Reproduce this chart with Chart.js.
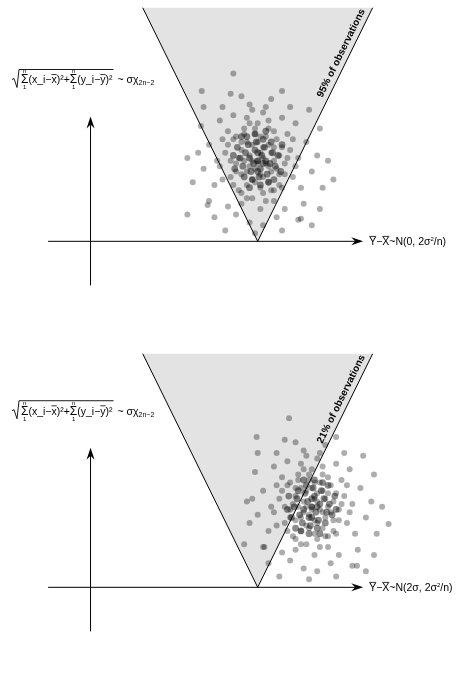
<!DOCTYPE html>
<html lang="en">
<head>
<meta charset="UTF-8">
<script src="https://cdn.jsdelivr.net/npm/chart.js"></script>
<style>
  body { margin: 0; background: #fff; }
  .panel { width: 474px; height: 346px; }
  canvas { display: block; }
</style>
</head>
<body>
<div class="panel"><canvas id="graficoTopo" width="474" height="346"></canvas></div>
<div class="panel"><canvas id="graficoBaixo" width="474" height="346"></canvas></div>
<script>
// unidades em sigma; o vertice do cone fica na origem
const coneTopo = [[-4.25, 8.7], [0, 0], [4.25, 8.7]];
const rotulos = ['95% of observations', '21% of observations'];
const medias = ['0', '2σ'];

const pontosTopo = [
  [0,3],[0.2,3.1],[-0.3,2.8],[0.5,3.3],[-0.6,3.4],[0.1,2.5],[-0.2,3.6],[0.7,2.7],[-0.8,2.6],[0.4,2.2],
  [-0.4,2.1],[0.9,3.5],[-0.9,3.8],[0.3,3.9],[-0.1,4.0],[0.6,4.1],[-0.5,4.2],[1.0,2.9],[-1.0,3.0],[0.8,2.1],
  [-0.7,1.9],[0.2,1.8],[-0.2,1.6],[1.2,3.4],[-1.2,3.3],[0.0,4.4],[0.4,4.5],[-0.4,4.6],[1.1,4.0],[-1.1,4.1],
  [1.3,2.4],[-1.3,2.3],[0.6,1.5],[-0.6,1.4],[0.1,1.2],[1.5,3.1],[-1.5,3.0],[0.9,4.6],[-0.9,4.7],[0.3,5.0],
  [-0.3,5.1],[1.6,2.0],[-1.6,2.1],[1.4,4.4],[-1.4,4.5],[0.7,0.9],[-0.8,1.0],[1.8,3.7],[-1.8,3.6],[2.0,2.6],
  [-2.0,2.7],[1.0,1.2],[-1.1,1.3],[0.5,5.3],[-0.6,5.4],[1.2,5.0],[-1.3,5.0],[2.2,3.2],[-2.2,3.3],[1.7,1.4],
  [-1.8,1.5],[0.2,0.6],[-0.3,0.7],[2.4,2.0],[-2.4,2.2],[0.9,5.6],[-1.0,5.5],[2.3,4.2],[-2.1,4.3],[2.6,3.0],
  [-2.6,3.1],[1.5,0.8],[-1.6,0.9],[1.9,4.9],[-2.0,5.0],[2.8,2.3],[1.6,0.84],[-1.85,1.35],[-0.9,6.25],[-2.07,5.6],
  [-2.6,1.0],[2.3,1.2],[-0.1,0.3],[0.9,0.4],[-1.2,0.4],[2.0,0.6],
  [0.1,3.3],[-0.1,2.7],[0.3,2.9],[-0.3,3.2],[0.4,3.6],[-0.5,3.0],[0.6,3.0],[-0.2,2.3],[0.2,2.4],[0.0,3.7],
  [-0.7,3.1],[0.8,3.2],[-0.4,3.7],[0.5,2.6],[-0.6,2.5],[0.1,2.0],[-0.1,4.2],[0.7,3.8],[-0.8,3.9],[1.0,2.5],
  [-1.0,2.4],[0.3,1.5],[-0.4,1.6],[1.1,3.1],[-1.1,3.6],[0.9,2.0],[-0.9,2.1],[0.4,4.2],[-0.3,4.4],[1.3,3.8],
  [-1.3,3.8],[0.6,1.9],[-0.6,1.8],[1.4,2.8],[-1.4,2.8],[0.2,4.8],[-0.2,4.9],[0.0,2.9],[0.2,3.5],[-0.2,3.0],
  [0.4,2.8],[-0.4,2.6],[0.1,3.9],[-0.1,2.2],[0.6,3.5],[-0.6,3.7],[0.8,2.5],[-0.8,2.9],[0.5,1.9],[-0.5,4.0]
];
// miolo denso da nuvem de cima
const nucleoTopo = [
  [0,3.0],[0.15,3.2],[-0.15,2.9],[0.3,3.0],[-0.3,3.1],[0.1,2.7],[-0.1,3.4],[0.25,3.5],[-0.25,2.6],[0.45,2.9],
  [-0.45,3.3],[0.05,2.4],[-0.05,3.7],[0.55,3.3],[-0.55,2.8],[0.35,2.5],[-0.35,3.6],[0.65,2.8],[-0.65,3.1],[0.2,3.8],
  [-0.2,2.3],[0.5,3.7],[-0.5,2.4],[0.75,3.2],[-0.75,3.5],[0.1,2.1],[-0.1,4.0],[0.4,2.2],[-0.4,3.9],[0.85,2.6],
  [-0.85,2.7],[0.6,2.3],[-0.6,3.9],[0.3,4.1],[-0.3,2.0],[0.9,3.6],[-0.9,3.2],[0.0,2.6],[0.0,3.3],[0.2,2.9]
];

const pontosBaixo = [
  [2,3],[2.2,3.2],[1.7,2.8],[2.5,3.3],[1.4,3.4],[2.1,2.5],[1.8,3.6],[2.7,2.8],[1.2,2.6],[2.4,2.2],
  [1.6,2.1],[2.9,3.5],[1.1,3.8],[2.3,3.9],[1.9,4.0],[2.6,4.1],[1.5,4.2],[3.0,2.9],[1.0,3.0],[2.8,2.1],
  [1.3,1.9],[2.2,1.8],[1.8,1.6],[3.2,3.4],[0.8,3.3],[2.0,4.4],[2.4,4.5],[1.6,4.6],[3.1,4.0],[0.9,4.1],
  [3.3,2.4],[0.7,2.3],[2.6,1.5],[1.4,1.4],[2.1,1.2],[3.5,3.1],[0.5,3.0],[2.9,4.6],[1.1,4.7],[2.3,5.0],
  [1.7,5.1],[3.6,2.0],[0.4,2.1],[3.4,4.4],[0.6,4.5],[2.7,0.9],[1.2,1.0],[3.8,3.7],[0.2,3.6],[4.0,2.6],
  [0.0,2.7],[3.0,1.2],[0.9,1.3],[2.5,5.3],[1.4,5.4],[3.2,5.0],[0.7,5.0],[4.2,3.2],[-0.2,3.3],[3.7,1.4],
  [0.2,1.5],[2.2,0.6],[1.7,0.7],[4.4,2.0],[-0.3,2.4],[2.9,5.6],[1.0,5.5],[4.3,4.2],[-0.1,4.3],[4.6,3.0],
  [-0.4,3.2],[3.5,0.8],[0.4,0.9],[3.9,4.9],[0.0,5.0],[4.84,2.36],[3.67,0.8],[0.25,1.5],[1.16,6.3],[-0.04,5.6],
  [-0.5,1.6],[4.3,1.2],[1.9,0.3],[2.9,0.4],[0.8,0.4],[4.0,0.6],
  [2.1,3.3],[1.9,2.7],[2.3,2.9],[1.7,3.2],[2.4,3.6],[1.5,3.0],[2.6,3.0],[1.8,2.3],[2.2,2.4],[2.0,3.7],
  [1.3,3.1],[2.8,3.2],[1.6,3.7],[2.5,2.6],[1.4,2.5],[2.1,2.0],[1.9,4.2],[2.7,3.8],[1.2,3.9],[3.0,2.5],
  [1.0,2.4],[2.3,1.5],[1.6,1.6],[3.1,3.1],[0.9,3.6],[2.9,2.0],[1.1,2.1],[2.4,4.2],[1.7,4.4],[3.3,3.8],
  [0.7,3.8],[2.6,1.9],[1.4,1.8],[3.4,2.8],[0.6,2.8],[2.2,4.8],[1.8,4.9],[2.0,2.9],[2.2,3.5],[1.8,3.0],
  [2.4,2.8],[1.6,2.6],[2.1,3.9],[1.9,2.2],[2.6,3.5],[1.4,3.7],[2.8,2.5],[1.2,2.9],[2.5,1.9],[1.5,4.0]
];
// miolo denso da nuvem de baixo
const nucleoBaixo = [
  [2.0,3.0],[2.15,2.8],[1.85,3.2],[2.3,3.1],[1.7,2.9],[2.1,3.4],[1.9,2.6],[2.25,2.5],[1.75,3.5],[2.45,3.3],
  [1.55,2.7],[2.05,3.7],[1.95,2.3],[2.55,2.8],[1.45,3.3],[2.35,3.6],[1.65,2.4],[2.65,3.1],[1.35,3.0],[2.2,2.2],
  [1.8,3.8],[2.5,2.4],[1.5,3.6],[2.75,2.7],[1.25,2.6],[2.1,4.0],[1.9,2.0],[2.4,3.9],[1.6,2.1],[2.85,3.4],
  [1.15,3.4],[2.6,3.8],[1.4,2.2],[2.3,2.0],[1.7,4.0],[2.9,2.9],[1.1,2.9],[2.0,2.6],[2.0,3.3],[2.2,3.0]
];

// posicao dos eixos desenhados (unidades)
const eixoH = [-7.75, 3.9];
const eixoVx = -6.18;
const eixoVtopo = [4.65, 5.2];

const FONTE = '"Liberation Sans", Arial, sans-serif';

function seta(ctx, x, y, dir) {
  ctx.beginPath();
  if (dir === 'r') {
    ctx.moveTo(x, y); ctx.lineTo(x - 12, y - 4); ctx.lineTo(x - 8, y); ctx.lineTo(x - 12, y + 4);
  } else {
    ctx.moveTo(x, y); ctx.lineTo(x - 4, y + 12); ctx.lineTo(x, y + 8); ctx.lineTo(x + 4, y + 12);
  }
  ctx.closePath();
  ctx.fill();
}

// desenha uma sequencia de pedacos de texto; devolve x final
function escreve(ctx, x, base, partes) {
  partes.forEach(p => {
    ctx.font = (p.s || 10.5) + 'px ' + FONTE;
    const w = ctx.measureText(p.t).width;
    ctx.fillText(p.t, x, base + (p.dy || 0));
    if (p.over) {
      ctx.beginPath();
      ctx.moveTo(x, base - (p.s || 10.5) * 0.85);
      ctx.lineTo(x + w, base - (p.s || 10.5) * 0.85);
      ctx.lineWidth = 0.8;
      ctx.stroke();
    }
    if (p.sig) {
      ctx.font = '6px ' + FONTE;
      ctx.textAlign = 'center';
      ctx.fillText('n', x + w / 2, base - 10);
      ctx.fillText('1', x + w / 2, base + 6);
      ctx.textAlign = 'left';
    }
    x += w;
  });
  return x;
}

function rotuloVertical(ctx, x0, base) {
  ctx.fillStyle = '#000';
  ctx.strokeStyle = '#000';
  const ini = x0 + 8;
  const fim = escreve(ctx, ini + 1, base, [
    { t: 'Σ', s: 12, sig: true }, { t: '(x_i−' }, { t: 'x', over: true }, { t: ')²+' },
    { t: 'Σ', s: 12, sig: true }, { t: '(y_i−' }, { t: 'y', over: true }, { t: ')²' }
  ]);
  ctx.beginPath();
  ctx.lineWidth = 0.9;
  ctx.moveTo(x0, base - 4); ctx.lineTo(x0 + 2, base - 5); ctx.lineTo(x0 + 5, base + 4);
  ctx.lineTo(x0 + 7, base - 14); ctx.lineTo(fim + 1, base - 14);
  ctx.stroke();
  const x = escreve(ctx, fim + 2, base, [{ t: ' ~ σχ' }]);
  escreve(ctx, x, base, [{ t: '2n−2', s: 7, dy: 2 }]);
}

const desenhos = {
  id: 'desenhos',
  afterDatasetsDraw(chart, args, opts) {
    const ctx = chart.ctx;
    const sx = chart.scales.x, sy = chart.scales.y;
    ctx.save();
    ctx.strokeStyle = '#000';
    ctx.fillStyle = '#000';
    ctx.lineWidth = 1;
    const y0 = sy.getPixelForValue(0);
    const xa = sx.getPixelForValue(eixoH[0]), xb = sx.getPixelForValue(eixoH[1]);
    ctx.beginPath(); ctx.moveTo(xa, y0); ctx.lineTo(xb - 8, y0); ctx.stroke();
    seta(ctx, xb, y0, 'r');
    const xv = sx.getPixelForValue(eixoVx);
    const yv0 = sy.getPixelForValue(-1.64), yv1 = sy.getPixelForValue(eixoVtopo[opts.i]);
    ctx.beginPath(); ctx.moveTo(xv, yv0); ctx.lineTo(xv, yv1 + 8); ctx.stroke();
    seta(ctx, xv, yv1, 'u');

    escreve(ctx, xb + 6, y0 + 4, [
      { t: 'Y', over: true }, { t: '−' }, { t: 'X', over: true },
      { t: '~N(' + medias[opts.i] + ', 2σ' }, { t: '2', s: 6, dy: -4 }, { t: '/n)' }
    ]);
    rotuloVertical(ctx, 12, yv1 - 33);

    // texto inclinado ao longo do cone
    const c = coneTopo[2];
    const px = sx.getPixelForValue(c[0] * 0.8) - 6, py = sy.getPixelForValue(c[1] * 0.8);
    const ang = Math.atan2(sy.getPixelForValue(c[1]) - y0, sx.getPixelForValue(c[0]) - sx.getPixelForValue(0));
    ctx.translate(px, py);
    ctx.rotate(ang);
    ctx.font = 'bold 10px ' + FONTE;
    ctx.textAlign = 'center';
    ctx.fillText(rotulos[opts.i], 0, 0);
    ctx.restore();
  }
};

function criaGrafico(id, pontos, nucleo, i) {
  return new Chart(document.getElementById(id), {
    type: 'scatter',
    data: {
      datasets: [
        {
          data: pontos.map(p => ({ x: p[0], y: p[1] })),
          backgroundColor: 'rgba(0,0,0,0.32)',
          borderWidth: 0,
          pointRadius: 3,
          order: 1
        },
        {
          data: nucleo.map(p => ({ x: p[0], y: p[1] })),
          backgroundColor: 'rgba(0,0,0,0.45)',
          borderWidth: 0,
          pointRadius: 3.4,
          order: 0
        },
        {
          data: coneTopo.map(p => ({ x: p[0], y: p[1] })),
          showLine: true,
          pointRadius: 0,
          borderColor: '#000',
          borderWidth: 1,
          backgroundColor: '#e3e3e3',
          fill: { value: coneTopo[0][1] },
          order: 2
        }
      ]
    },
    options: {
      responsive: false,
      animation: false,
      devicePixelRatio: 1,
      layout: { padding: 0 },
      plugins: { legend: { display: false }, tooltip: { enabled: false }, desenhos: { i: i } },
      scales: {
        x: { type: 'linear', display: false, min: -9.38, max: 7.85 },
        y: { type: 'linear', display: false, min: -3.75, max: 8.84 }
      }
    },
    plugins: [desenhos]
  });
}

criaGrafico('graficoTopo', pontosTopo, nucleoTopo, 0);
criaGrafico('graficoBaixo', pontosBaixo, nucleoBaixo, 1);
</script>
</body>
</html>
